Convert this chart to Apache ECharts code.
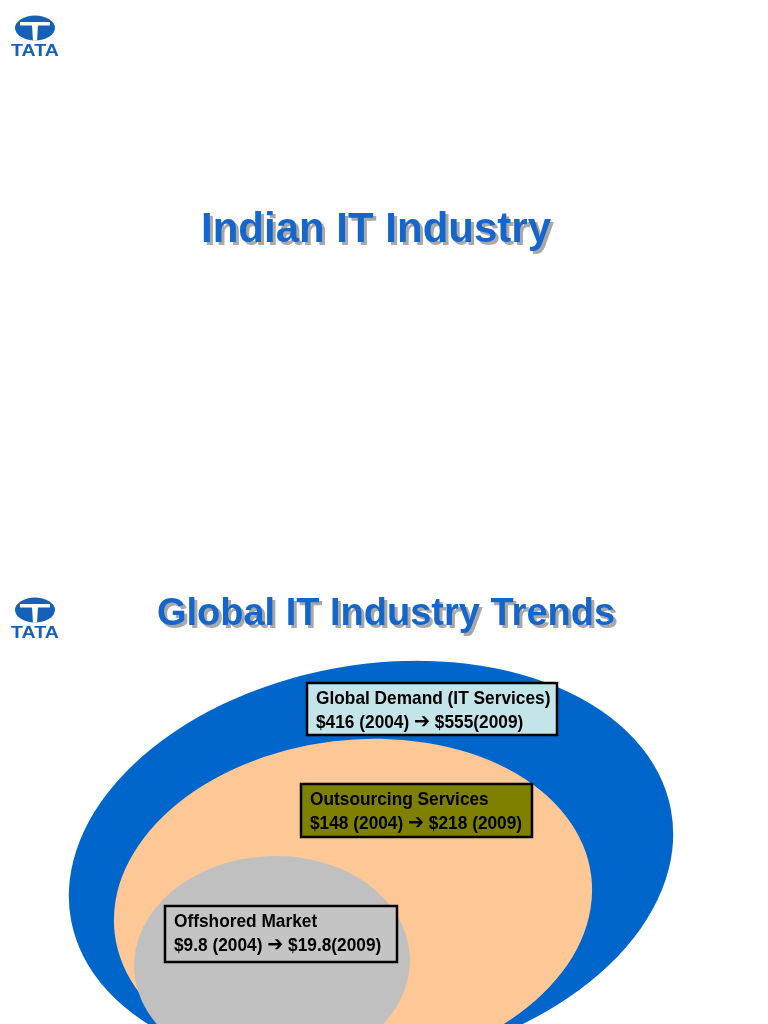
<!DOCTYPE html>
<html><head><meta charset="utf-8">
<script src="https://cdn.jsdelivr.net/npm/echarts@6/dist/echarts.min.js"></script>
<style>html,body{margin:0;padding:0;background:#fff}#c{width:768px;height:1024px}</style>
</head><body><div id="c"></div>
<script>
const titles = ["Indian IT Industry", "Global IT Industry Trends"];
const segments = ["Global Demand (IT Services)", "Outsourcing Services", "Offshored Market"];
const value2004 = ["$416", "$148", "$9.8"];
const value2009 = ["$555", "$218", "$19.8"];
const gaps = ["", " ", ""];

const chart = echarts.init(document.getElementById('c'));
function ellipse(cx, cy, rx, ry, rot, color) {
  return {type:'circle', x:cx, y:cy, rotation:rot, scaleX:rx/ry, scaleY:1,
    shape:{cx:0, cy:0, r:ry}, style:{fill:color}};
}
function logo(y) {
  return {type:'group', x:35, y:y, children:[
    ellipse(0,0,20,12.5,0,'#1560b8'),
    {type:'rect', shape:{x:-15,y:-6,width:30,height:3.5}, style:{fill:'#fff'}},
    {type:'polygon', shape:{points:[[-3,-3],[3,-3],[2,12.5],[-2,12.5]]}, style:{fill:'#fff'}},
    {type:'text', x:0, y:15, scaleX:1.15, style:{text:'TATA', fill:'#1560b8', font:'900 17px "Liberation Sans"', align:'center', verticalAlign:'top'}}
  ]};
}
function title(t, x, y, size) {
  const s = {text:t, font:'bold '+size+'px "Liberation Sans"', align:'center', verticalAlign:'middle'};
  return {type:'group', children:[
    {type:'text', x:x+3, y:y+3, style:Object.assign({fill:'#a8a8a8'}, s)},
    {type:'text', x:x, y:y, style:Object.assign({fill:'#1566cc'}, s)}
  ]};
}
const boxes = [[307,683,250,52,'#c3e4e8'],[301,784,231,53,'#808000'],[165,906,232,56,'#c4c4c4']];
const boxEls = boxes.map((b,i)=>({type:'group', children:[
  {type:'rect', shape:{x:b[0],y:b[1],width:b[2],height:b[3]}, style:{fill:b[4], stroke:'#000', lineWidth:2.5}},
  {type:'text', x:b[0]+9, y:b[1]+4, scaleX:0.91, style:{
    text:segments[i]+'\n'+value2004[i]+' (2004) {a|➔} '+value2009[i]+gaps[i]+'(2009)',
    fill:'#000', font:'bold 19px "Liberation Sans"', lineHeight:24, verticalAlign:'top',
    rich:{a:{font:'bold 21px "DejaVu Sans"', fill:'#000', lineHeight:24}}}}
]}));
chart.setOption({
  animation:false,
  graphic:[
    logo(28),
    title(titles[0], 376, 230, 42),
    logo(610),
    title(titles[1], 386, 615, 38),
    ellipse(371, 865, 305, 200, 0.18, '#0066cc'),
    ellipse(353, 905, 240, 165, 0.12, '#fec896'),
    ellipse(272, 963, 138, 107, 0.05, '#c0c0c0'),
    ...boxEls
  ]
});
</script></body></html>
